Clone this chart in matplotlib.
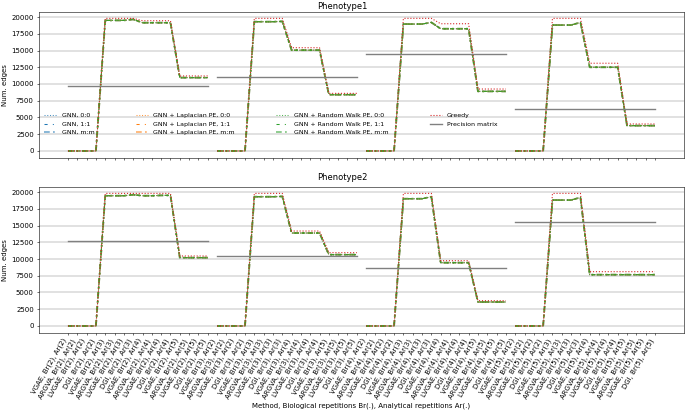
import matplotlib
matplotlib.use("Agg")
import matplotlib.pyplot as plt
import numpy as np

# x categories: method cycles fastest, then analytical rep, then biological rep
methods = ["VGAE", "ARGVA", "LVGAE", "DGI"]
bio_reps = [2, 3, 4, 5]
ana_reps = [2, 3, 4, 5]

# Phenotype1 -- GNN variants (all encodings nearly identical), Greedy, Precision matrix
p1_gnn = [
    0, 0, 0, 0, 19500, 19500, 19500, 19650, 19150, 19150, 19150, 19150, 10950, 10950, 10950, 10950,
    0, 0, 0, 0, 19300, 19300, 19300, 19350, 15050, 15050, 15050, 15050, 8400, 8400, 8400, 8400,
    0, 0, 0, 0, 18950, 18950, 18950, 19200, 18250, 18250, 18250, 18250, 8900, 8900, 8900, 8900,
    0, 0, 0, 0, 18800, 18800, 18800, 19200, 12500, 12500, 12500, 12500, 3780, 3780, 3780, 3780,
]
p1_greedy = [
    0, 0, 0, 0, 19800, 19800, 19800, 19800, 19450, 19450, 19450, 19450, 11200, 11200, 11200, 11200,
    0, 0, 0, 0, 19800, 19800, 19800, 19800, 15420, 15420, 15420, 15420, 8600, 8600, 8600, 8600,
    0, 0, 0, 0, 19800, 19800, 19800, 19800, 19000, 19000, 19000, 19000, 9250, 9250, 9250, 9250,
    0, 0, 0, 0, 19800, 19800, 19800, 19800, 13100, 13100, 13100, 13100, 4030, 4030, 4030, 4030,
]
p1_prec = [9650, 11100, 14450, 6280]

# Phenotype2
p2_gnn = [
    0, 0, 0, 0, 19450, 19450, 19450, 19600, 19450, 19450, 19500, 19500, 10200, 10200, 10200, 10200,
    0, 0, 0, 0, 19300, 19300, 19300, 19350, 13880, 13880, 13880, 13880, 10650, 10650, 10650, 10650,
    0, 0, 0, 0, 19000, 19000, 19000, 19300, 9450, 9450, 9450, 9450, 3580, 3580, 3580, 3580,
    0, 0, 0, 0, 18800, 18800, 18800, 19200, 7660, 7660, 7660, 7660, 7660, 7660, 7660, 7660,
]
p2_greedy = [
    0, 0, 0, 0, 19800, 19800, 19800, 19800, 19800, 19800, 19800, 19800, 10450, 10450, 10450, 10450,
    0, 0, 0, 0, 19800, 19800, 19800, 19800, 14180, 14180, 14180, 14180, 10950, 10950, 10950, 10950,
    0, 0, 0, 0, 19800, 19800, 19800, 19800, 9750, 9750, 9750, 9750, 3780, 3780, 3780, 3780,
    0, 0, 0, 0, 19800, 19800, 19800, 19800, 8110, 8110, 8110, 8110, 8110, 8110, 8110, 8110,
]
p2_prec = [12690, 10400, 8610, 15470]

models = ["GNN", "GNN + Laplacian PE", "GNN + Random Walk PE"]
model_colors = ["#1f77b4", "#ff7f0e", "#2ca02c"]
encodings = ["0:0", "1:1", "m:m"]
enc_styles = [
    dict(linestyle=":", lw=1.5, alpha=0.8),
    dict(linestyle=(0, (3, 5, 1, 5)), lw=1.5, alpha=1.0),
    dict(linestyle=(0, (3.3, 1.9, 1, 1.9)), lw=2.5, alpha=0.6),
]

labels = [f"{m}, Br({b}), Ar({a})" for b in bio_reps for a in ana_reps for m in methods]
x = np.arange(len(labels))
group_len = len(ana_reps) * len(methods)

fig = plt.figure(figsize=(13.7, 8.24), dpi=50)
ax1 = fig.add_axes([0.0564, 0.6175, 0.9426, 0.354])
ax2 = fig.add_axes([0.0564, 0.1927, 0.9426, 0.354], sharex=ax1)


def draw_panel(ax, gnn, greedy, prec):
    gnn = np.array(gnn, dtype=float)
    greedy = np.array(greedy, dtype=float)
    for model, col in zip(models, model_colors):
        for enc, st in zip(encodings, enc_styles):
            for g in range(len(bio_reps)):
                sl = slice(g * group_len, (g + 1) * group_len)
                ax.plot(x[sl], gnn[sl], color=col, **st,
                        label=f"{model}, {enc}" if g == 0 else None)
    for g in range(len(bio_reps)):
        sl = slice(g * group_len, (g + 1) * group_len)
        ax.plot(x[sl], greedy[sl], color="#d62728", linestyle=":", lw=1.6,
                label="Greedy" if g == 0 else None)
    for g in range(len(bio_reps)):
        xs = x[g * group_len:(g + 1) * group_len]
        ax.plot([xs[0], xs[-1]], [prec[g], prec[g]], color="gray", lw=2,
                label="Precision matrix" if g == 0 else None)
    ax.set_yticks(np.arange(0, 20001, 2500))
    ax.grid(axis="y", color="#d9d9d9", lw=2.2)
    ax.set_axisbelow(True)
    ax.set_ylabel("Num. edges", fontsize=10)
    ax.tick_params(labelsize=10)


draw_panel(ax1, p1_gnn, p1_greedy, p1_prec)
draw_panel(ax2, p2_gnn, p2_greedy, p2_prec)

ax1.legend(loc="lower left", bbox_to_anchor=(0, 0.115), ncol=4, frameon=False,
           fontsize=9, columnspacing=6.6)

ax2.set_xticks(x)
ax2.set_xticklabels(labels, rotation=60, ha="right", fontsize=10)
plt.setp(ax1.get_xticklabels(), visible=False)
ax2.set_xlabel("Method, Biological repetitions Br(.), Analytical repetitions Ar(.)", fontsize=10)

fig.text(0.5, 0.985, "Phenotype1", ha="center", va="center", fontsize=12)
fig.text(0.5, 0.569, "Phenotype2", ha="center", va="center", fontsize=12)

fig.savefig("out.png", dpi=50)
